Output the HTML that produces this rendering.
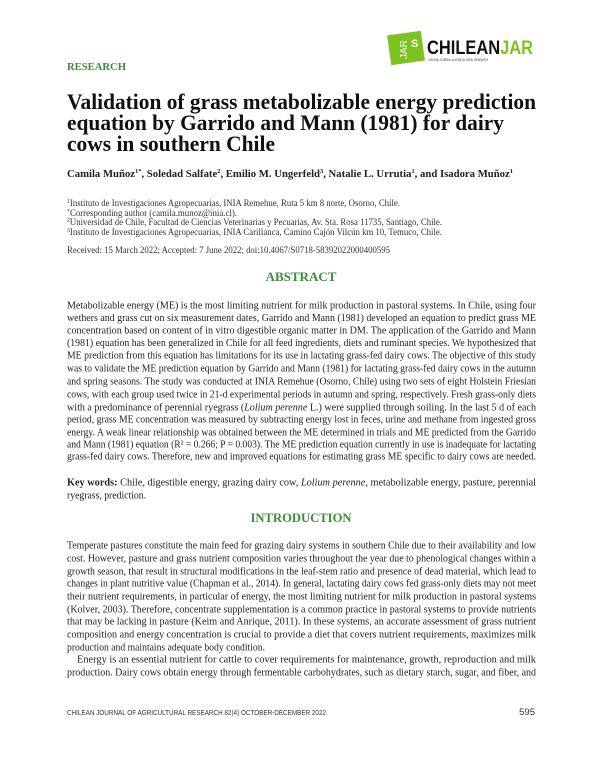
<!DOCTYPE html>
<html><head><meta charset="utf-8"><style>
html,body{margin:0;padding:0;background:#fff;}
svg{display:block;}
.b{font-family:"Liberation Serif",serif;font-size:10.5px;fill:#222;}
.a{font-family:"Liberation Serif",serif;font-size:9px;fill:#333;}
</style></head><body>
<svg width="600" height="759" viewBox="0 0 600 759" xmlns="http://www.w3.org/2000/svg">
<rect width="600" height="759" fill="#fff"/>
<!-- logo -->
<rect x="389" y="33" width="34" height="30" fill="#7dc31f" transform="rotate(-8 406 48)"/>
<text x="398" y="60" font-family="Liberation Sans,sans-serif" font-size="10" fill="#fff" transform="rotate(-90 402 55)">JAR</text>
<text x="411" y="47" font-family="Liberation Sans,sans-serif" font-size="11" fill="#fff" font-weight="bold">S</text>
<text x="427" y="54" font-family="Liberation Sans,sans-serif" font-size="19" font-weight="bold" textLength="106" lengthAdjust="spacingAndGlyphs"><tspan fill="#111">CHILEAN</tspan><tspan fill="#7dc31f">JAR</tspan></text>
<text x="428" y="61" font-family="Liberation Sans,sans-serif" font-size="3.5" fill="#333" textLength="60" lengthAdjust="spacingAndGlyphs">CHILEAN JOURNAL of AGRICULTURAL RESEARCH</text>

<text x="67" y="70" font-family="Liberation Serif,serif" font-size="10.5" font-weight="bold" fill="#3c8c3c" textLength="59" lengthAdjust="spacingAndGlyphs">RESEARCH</text>

<g font-family="Liberation Serif,serif" font-size="22" font-weight="bold" fill="#111">
<text x="67" y="109" textLength="469" lengthAdjust="spacingAndGlyphs">Validation of grass metabolizable energy prediction</text>
<text x="67" y="130" textLength="437" lengthAdjust="spacingAndGlyphs">equation by Garrido and Mann (1981) for dairy</text>
<text x="67" y="151" textLength="208" lengthAdjust="spacingAndGlyphs">cows in southern Chile</text>
</g>

<text x="67" y="177" font-family="Liberation Serif,serif" font-size="10" font-weight="bold" fill="#222" textLength="446" lengthAdjust="spacingAndGlyphs">Camila Muñoz<tspan font-size="6" dy="-4">1*</tspan><tspan dy="4">, Soledad Salfate</tspan><tspan font-size="6" dy="-4">2</tspan><tspan dy="4">, Emilio M. Ungerfeld</tspan><tspan font-size="6" dy="-4">3</tspan><tspan dy="4">, Natalie L. Urrutia</tspan><tspan font-size="6" dy="-4">1</tspan><tspan dy="4">, and Isadora Muñoz</tspan><tspan font-size="6" dy="-4">1</tspan></text>

<text class="a" x="67" y="206" textLength="333" lengthAdjust="spacingAndGlyphs"><tspan font-size="6" dy="-3">1</tspan><tspan dy="3">Instituto de Investigaciones Agropecuarias, INIA Remehue, Ruta 5 km 8 norte, Osorno, Chile.</tspan></text>
<text class="a" x="67" y="216" textLength="170" lengthAdjust="spacingAndGlyphs"><tspan font-size="6" dy="-3">*</tspan><tspan dy="3">Corresponding author (camila.munoz@inia.cl).</tspan></text>
<text class="a" x="67" y="225" textLength="375" lengthAdjust="spacingAndGlyphs"><tspan font-size="6" dy="-3">2</tspan><tspan dy="3">Universidad de Chile, Facultad de Ciencias Veterinarias y Pecuarias, Av. Sta. Rosa 11735, Santiago, Chile.</tspan></text>
<text class="a" x="67" y="235" textLength="375" lengthAdjust="spacingAndGlyphs"><tspan font-size="6" dy="-3">3</tspan><tspan dy="3">Instituto de Investigaciones Agropecuarias, INIA Carillanca, Camino Cajón Vilcún km 10, Temuco, Chile.</tspan></text>
<text class="a" x="67" y="253" textLength="323" lengthAdjust="spacingAndGlyphs">Received: 15 March 2022; Accepted: 7 June 2022; doi:10.4067/S0718-58392022000400595</text>

<text x="301" y="281" text-anchor="middle" font-family="Liberation Serif,serif" font-size="13" font-weight="bold" fill="#3c8c3c">ABSTRACT</text>

<g class="b">
<text class="b" x="67" y="308.5" textLength="469" lengthAdjust="spacingAndGlyphs">Metabolizable energy (ME) is the most limiting nutrient for milk production in pastoral systems. In Chile, using four</text>
<text class="b" x="67" y="321" textLength="469" lengthAdjust="spacingAndGlyphs">wethers and grass cut on six measurement dates, Garrido and Mann (1981) developed an equation to predict grass ME</text>
<text class="b" x="67" y="333.5" textLength="469" lengthAdjust="spacingAndGlyphs">concentration based on content of in vitro digestible organic matter in DM. The application of the Garrido and Mann</text>
<text class="b" x="67" y="346" textLength="469" lengthAdjust="spacingAndGlyphs">(1981) equation has been generalized in Chile for all feed ingredients, diets and ruminant species. We hypothesized that</text>
<text class="b" x="67" y="358.5" textLength="469" lengthAdjust="spacingAndGlyphs">ME prediction from this equation has limitations for its use in lactating grass-fed dairy cows. The objective of this study</text>
<text class="b" x="67" y="371.5" textLength="469" lengthAdjust="spacingAndGlyphs">was to validate the ME prediction equation by Garrido and Mann (1981) for lactating grass-fed dairy cows in the autumn</text>
<text class="b" x="67" y="384.5" textLength="469" lengthAdjust="spacingAndGlyphs">and spring seasons. The study was conducted at INIA Remehue (Osorno, Chile) using two sets of eight Holstein Friesian</text>
<text class="b" x="67" y="397.5" textLength="469" lengthAdjust="spacingAndGlyphs">cows, with each group used twice in 21-d experimental periods in autumn and spring, respectively. Fresh grass-only diets</text>
<text class="b" x="67" y="410.5" textLength="469" lengthAdjust="spacingAndGlyphs">with a predominance of perennial ryegrass (<tspan font-style="italic">Lolium perenne</tspan> L.) were supplied through soiling. In the last 5 d of each</text>
<text class="b" x="67" y="422.5" textLength="469" lengthAdjust="spacingAndGlyphs">period, grass ME concentration was measured by subtracting energy lost in feces, urine and methane from ingested gross</text>
<text class="b" x="67" y="435.5" textLength="469" lengthAdjust="spacingAndGlyphs">energy. A weak linear relationship was obtained between the ME determined in trials and ME predicted from the Garrido</text>
<text class="b" x="67" y="447.5" textLength="469" lengthAdjust="spacingAndGlyphs">and Mann (1981) equation (R² = 0.266; P = 0.003). The ME prediction equation currently in use is inadequate for lactating</text>
<text class="b" x="67" y="459.5" textLength="469" lengthAdjust="spacingAndGlyphs">grass-fed dairy cows. Therefore, new and improved equations for estimating grass ME specific to dairy cows are needed.</text>

<text class="b" x="67" y="485.5" textLength="469" lengthAdjust="spacingAndGlyphs"><tspan font-weight="bold">Key words:</tspan> Chile, digestible energy, grazing dairy cow, <tspan font-style="italic">Lolium perenne</tspan>, metabolizable energy, pasture, perennial</text>
<text class="b" x="67" y="498.5" textLength="79" lengthAdjust="spacingAndGlyphs">ryegrass, prediction.</text>
</g>

<text x="301" y="522" text-anchor="middle" font-family="Liberation Serif,serif" font-size="13" font-weight="bold" fill="#3c8c3c" textLength="101" lengthAdjust="spacingAndGlyphs">INTRODUCTION</text>

<g>
<text class="b" x="67" y="548.5" textLength="469" lengthAdjust="spacingAndGlyphs">Temperate pastures constitute the main feed for grazing dairy systems in southern Chile due to their availability and low</text>
<text class="b" x="67" y="561.5" textLength="469" lengthAdjust="spacingAndGlyphs">cost. However, pasture and grass nutrient composition varies throughout the year due to phenological changes within a</text>
<text class="b" x="67" y="574.5" textLength="469" lengthAdjust="spacingAndGlyphs">growth season, that result in structural modifications in the leaf-stem ratio and presence of dead material, which lead to</text>
<text class="b" x="67" y="586.5" textLength="469" lengthAdjust="spacingAndGlyphs">changes in plant nutritive value (Chapman et al., 2014). In general, lactating dairy cows fed grass-only diets may not meet</text>
<text class="b" x="67" y="599.5" textLength="469" lengthAdjust="spacingAndGlyphs">their nutrient requirements, in particular of energy, the most limiting nutrient for milk production in pastoral systems</text>
<text class="b" x="67" y="612.5" textLength="469" lengthAdjust="spacingAndGlyphs">(Kolver, 2003). Therefore, concentrate supplementation is a common practice in pastoral systems to provide nutrients</text>
<text class="b" x="67" y="624.5" textLength="469" lengthAdjust="spacingAndGlyphs">that may be lacking in pasture (Keim and Anrique, 2011). In these systems, an accurate assessment of grass nutrient</text>
<text class="b" x="67" y="637.5" textLength="469" lengthAdjust="spacingAndGlyphs">composition and energy concentration is crucial to provide a diet that covers nutrient requirements, maximizes milk</text>
<text class="b" x="67" y="650.5" textLength="198" lengthAdjust="spacingAndGlyphs">production and maintains adequate body condition.</text>
<text class="b" x="77" y="662.5" textLength="459" lengthAdjust="spacingAndGlyphs">Energy is an essential nutrient for cattle to cover requirements for maintenance, growth, reproduction and milk</text>
<text class="b" x="67" y="675.5" textLength="469" lengthAdjust="spacingAndGlyphs">production. Dairy cows obtain energy through fermentable carbohydrates, such as dietary starch, sugar, and fiber, and</text>
</g>

<text x="67" y="715" font-family="Liberation Sans,sans-serif" font-size="7.5" fill="#333" textLength="259" lengthAdjust="spacingAndGlyphs">CHILEAN JOURNAL OF AGRICULTURAL RESEARCH 82(4) OCTOBER-DECEMBER 2022</text>
<text x="535" y="715" text-anchor="end" font-family="Liberation Sans,sans-serif" font-size="9.5" fill="#333">595</text>
</svg>
</body></html>
